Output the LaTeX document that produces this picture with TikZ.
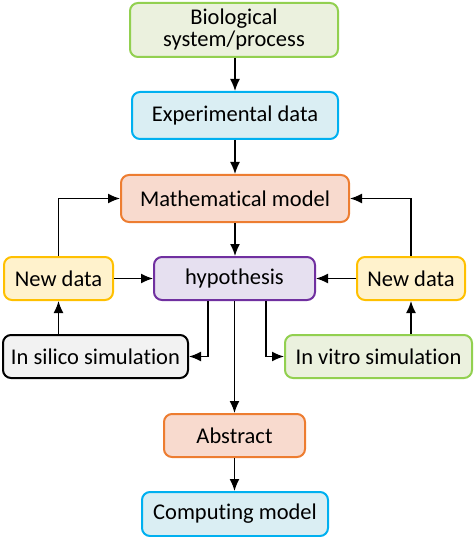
\documentclass[tikz,border=0pt]{standalone}
\usepackage{fontspec}
\setmainfont{Carlito}[RawFeature=-liga]
\usetikzlibrary{arrows.meta}
\definecolor{gB}{RGB}{146,208,80}\definecolor{gF}{RGB}{235,241,222}
\definecolor{bB}{RGB}{0,176,240}\definecolor{bF}{RGB}{218,238,243}
\definecolor{oB}{RGB}{237,125,49}\definecolor{oF}{RGB}{248,218,206}
\definecolor{pB}{RGB}{112,48,160}\definecolor{pF}{RGB}{230,224,240}
\definecolor{yB}{RGB}{255,192,0}\definecolor{yF}{RGB}{255,242,204}
\definecolor{kF}{RGB}{242,242,242}
\begin{document}
\begin{tikzpicture}[x=1pt,y=-1pt,
  box/.style={rounded corners=8pt,line width=2pt,align=center,inner sep=0pt,font=\fontsize{22.5}{25}\selectfont,text=black},
  gbox/.style={box,draw=gB,fill=gF},
  bbox/.style={box,draw=bB,fill=bF},
  obox/.style={box,draw=oB,fill=oF},
  pbox/.style={box,draw=pB,fill=pF},
  ybox/.style={box,draw=yB,fill=yF},
  kbox/.style={box,draw=black,fill=kF},
  arr/.style={-{Latex[length=12pt,width=10pt]},line width=1.5pt}]
\useasboundingbox (0,0) rectangle (474,537);
\node[gbox,minimum width=208pt,minimum height=54pt] (bio) at (234,30) {Biological\\[-3pt]system/process};
\node[bbox,minimum width=206pt,minimum height=47pt] (exp) at (235,115.5) {Experimental data};
\node[obox,minimum width=228pt,minimum height=47pt] (math) at (235,198.5) {Mathematical model};
\node[pbox,minimum width=161pt,minimum height=43pt] (hyp) at (234.5,278.5) {hypothesis};
\node[ybox,minimum width=109pt,minimum height=43pt] (ndl) at (58.5,278.5) {New data};
\node[ybox,minimum width=108pt,minimum height=43pt] (ndr) at (411,278.5) {New data};
\node[kbox,minimum width=185pt,minimum height=43pt] (sil) at (95.5,356.5) {In silico simulation};
\node[gbox,minimum width=187pt,minimum height=43pt] (vit) at (378.5,356.5) {In vitro simulation};
\node[obox,minimum width=141pt,minimum height=43pt] (abs) at (234.5,435.5) {Abstract};
\node[bbox,minimum width=186pt,minimum height=44pt] (comp) at (235,514) {Computing model};
\draw[arr] (bio.south -| exp.north) -- (exp.north);
\draw[arr] (exp.south) -- (exp.south |- math.north);
\draw[arr] (math.south) -- (math.south |- hyp.north);
\draw[arr] (ndl.north) |- (math.west);
\draw[arr] (ndr.north) |- (math.east);
\draw[arr] (ndl.east) -- (hyp.west);
\draw[arr] (ndr.west) -- (hyp.east);
\draw[arr] (sil.north -| ndl.south) -- (ndl.south);
\draw[arr] (vit.north -| ndr.south) -- (ndr.south);
\draw[arr] ([xshift=-26.5pt]hyp.south) |- (sil.east);
\draw[arr] ([xshift=31.5pt]hyp.south) |- (vit.west);
\draw[arr] (hyp.south) -- (hyp.south |- abs.north);
\draw[arr] (abs.south) -- (abs.south |- comp.north);
\end{tikzpicture}
\end{document}
